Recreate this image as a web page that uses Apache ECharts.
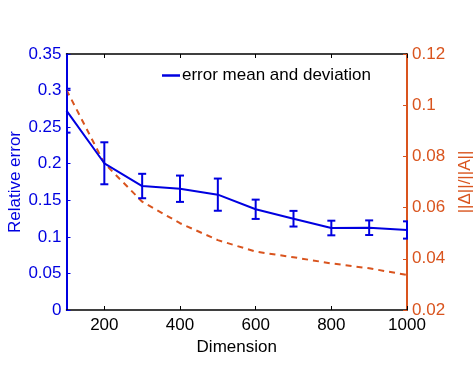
<!DOCTYPE html>
<html>
<head>
<meta charset="utf-8">
<script src="https://cdn.jsdelivr.net/npm/echarts@6/dist/echarts.min.js"></script>
<style>html,body{margin:0;padding:0;background:#fff}#c{width:474px;height:366px}</style>
</head>
<body>
<div id="c"></div>
<script>
const dims = [100, 200, 300, 400, 500, 600, 700, 800, 900, 1000];
const errMean = [0.2725, 0.2006, 0.1695, 0.1658, 0.1577, 0.1377, 0.1248, 0.1121, 0.1125, 0.1094];
const errDev = [0.03, 0.0287, 0.0167, 0.018, 0.022, 0.0132, 0.0107, 0.010, 0.010, 0.0118];
const deltaRatio = [0.106, 0.0773, 0.0623, 0.0539, 0.0473, 0.0428, 0.0406, 0.0382, 0.0363, 0.0337];
const xTicks = [200, 400, 600, 800, 1000];

const BLUE = '#0000e0';
const ORANGE = '#d9541e';
const FONT = 'Liberation Sans';
const FS = 17;

const chart = echarts.init(document.getElementById('c'));
const fmt = v => String(+v.toFixed(2));

chart.setOption({
  animation: false,
  textStyle: { fontFamily: FONT },
  grid: { left: 66.5, right: 67, top: 54, bottom: 56, containLabel: false, outerBoundsMode: 'none' },
  legend: {
    data: ['error mean and deviation'],
    left: 157, top: 62,
    icon: 'rect', itemWidth: 18, itemHeight: 2.5, itemGap: 0,
    textStyle: { fontSize: FS, color: '#000', fontFamily: FONT, padding: [0, 0, 0, -3] }
  },
  xAxis: [{
    type: 'value', min: 100, max: 1000, position: 'bottom',
    name: 'Dimension', nameLocation: 'middle', nameGap: 27,
    nameTextStyle: { fontSize: FS, color: '#000' },
    axisLine: { show: true, lineStyle: { color: '#000', width: 1.5 } },
    axisTick: { show: true, inside: true, length: 4, customValues: xTicks, lineStyle: { color: '#000' } },
    axisLabel: { customValues: xTicks, fontSize: FS, color: '#000', margin: 7, formatter: v => String(v) },
    splitLine: { show: false }
  }, {
    type: 'value', min: 100, max: 1000, position: 'top',
    axisLine: { show: true, onZero: false, lineStyle: { color: '#000', width: 1.5 } },
    axisTick: { show: true, inside: true, length: 4, customValues: xTicks, lineStyle: { color: '#000' } },
    axisLabel: { show: false },
    splitLine: { show: false }
  }],
  yAxis: [{
    type: 'value', min: 0, max: 0.35, interval: 0.05, position: 'left',
    name: 'Relative error', nameLocation: 'middle', nameGap: 43, nameMoveOverlap: false,
    nameTextStyle: { fontSize: FS, color: BLUE },
    axisLine: { show: true, lineStyle: { color: BLUE, width: 2 } },
    axisTick: { show: true, inside: true, length: 4, lineStyle: { color: BLUE } },
    axisLabel: { fontSize: FS, color: BLUE, margin: 5, formatter: fmt },
    splitLine: { show: false }
  }, {
    type: 'value', min: 0.02, max: 0.12, interval: 0.02, position: 'right',
    name: '||Δ||/||A||', nameLocation: 'middle', nameGap: 50, nameRotate: 90,
    nameTextStyle: { fontSize: FS, color: ORANGE },
    axisLine: { show: true, lineStyle: { color: ORANGE, width: 2 } },
    axisTick: { show: true, inside: true, length: 4, lineStyle: { color: ORANGE } },
    axisLabel: { fontSize: FS, color: ORANGE, margin: 5, formatter: fmt },
    splitLine: { show: false }
  }],
  series: [{
    name: 'error mean and deviation',
    type: 'line', xAxisIndex: 0, yAxisIndex: 0,
    data: dims.map((d, i) => [d, errMean[i]]),
    showSymbol: false, symbol: 'none',
    lineStyle: { color: BLUE, width: 2 },
    itemStyle: { color: BLUE },
    z: 3
  }, {
    name: 'dev',
    type: 'custom', xAxisIndex: 0, yAxisIndex: 0, clip: true,
    data: dims.map((d, i) => [d, errMean[i] - errDev[i], errMean[i] + errDev[i]]),
    renderItem: (params, api) => {
      const lo = api.coord([api.value(0), api.value(1)]);
      const hi = api.coord([api.value(0), api.value(2)]);
      const w = 4;
      const st = { stroke: BLUE, lineWidth: 2, fill: null };
      return { type: 'group', children: [
        { type: 'line', shape: { x1: lo[0], y1: lo[1], x2: hi[0], y2: hi[1] }, style: st },
        { type: 'line', shape: { x1: lo[0] - w, y1: lo[1], x2: lo[0] + w, y2: lo[1] }, style: st },
        { type: 'line', shape: { x1: hi[0] - w, y1: hi[1], x2: hi[0] + w, y2: hi[1] }, style: st }
      ]};
    },
    z: 3
  }, {
    name: 'delta',
    type: 'line', xAxisIndex: 0, yAxisIndex: 1,
    data: dims.map((d, i) => [d, deltaRatio[i]]),
    showSymbol: false, symbol: 'none',
    lineStyle: { color: ORANGE, width: 2, type: [6, 5] },
    z: 2
  }]
});
</script>
</body>
</html>
